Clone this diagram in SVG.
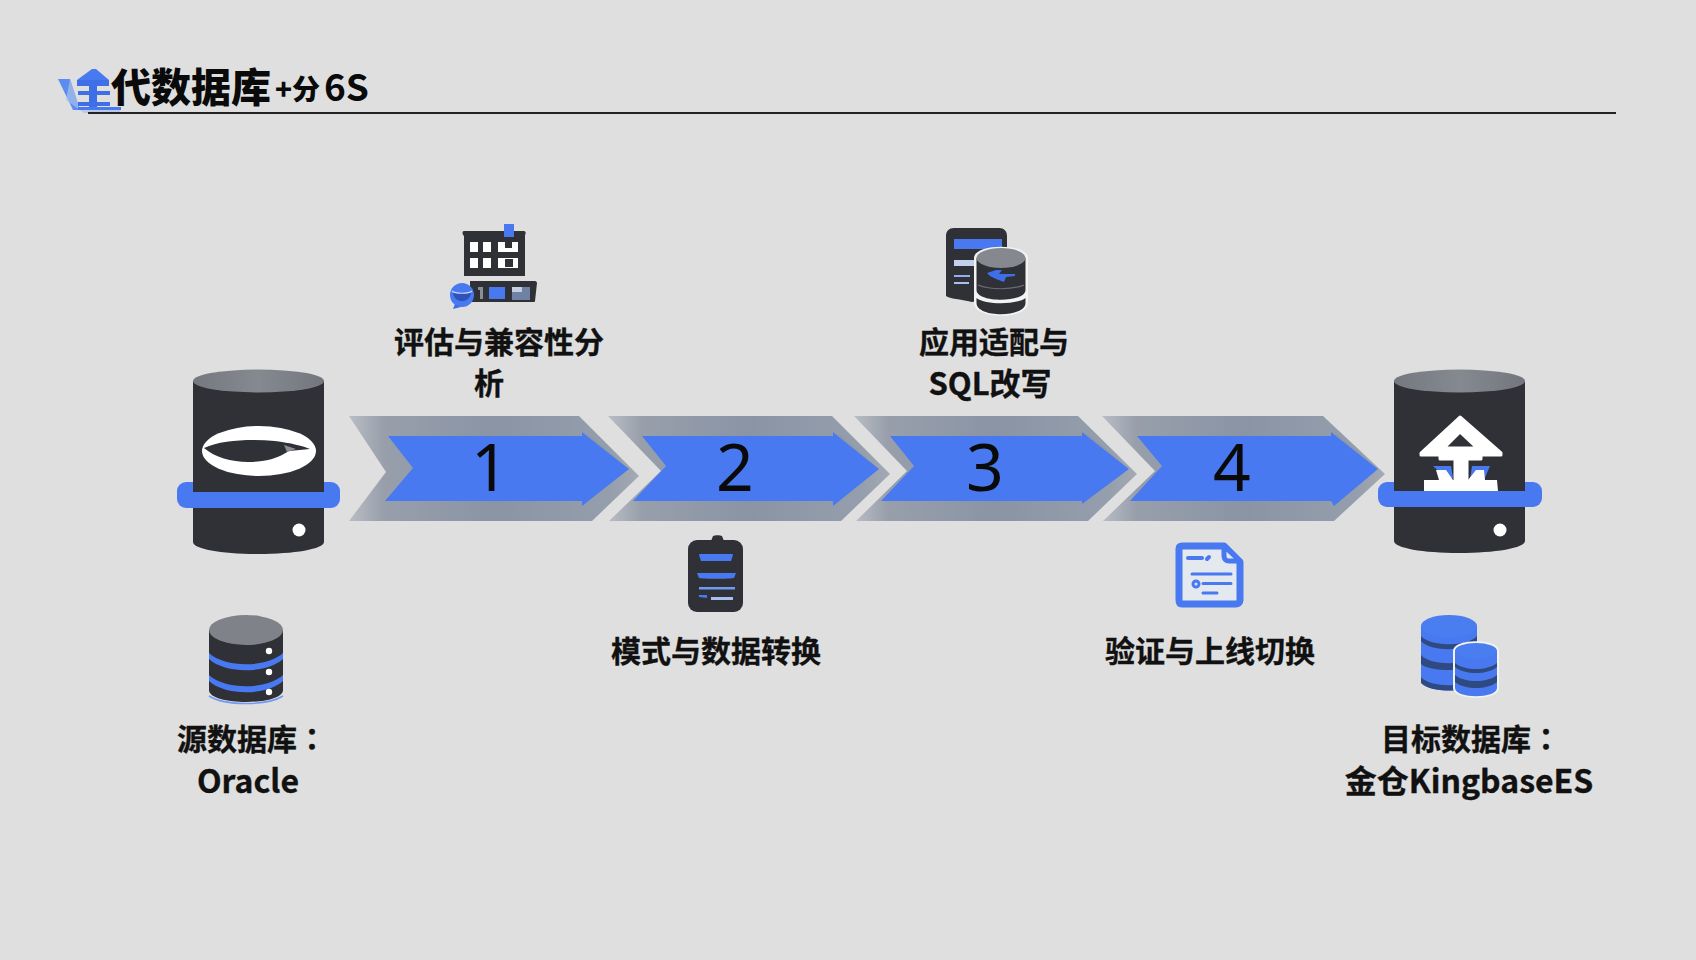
<svg xmlns="http://www.w3.org/2000/svg" width="1696" height="960" viewBox="0 0 1696 960">
<style>
.t{font-family:"Noto Sans CJK SC","Noto Sans",sans-serif;font-weight:700;font-size:30px;fill:#111;stroke:#111;stroke-width:.35px;text-anchor:middle}
.l{font-size:32px}
.c{font-family:"Noto Sans CJK TC",sans-serif}
.n{font-family:"Noto Sans",sans-serif;font-size:66px;fill:#0a0a0a;text-anchor:middle}
.g{fill:url(#gray)}
.b{fill:#4879f0}
.d{fill:#2f3136}
.w{fill:#fff}
.s{fill:#8d97a8}
</style>
<defs>
<linearGradient id="gray" x1="0" x2="1" y1="0" y2="0">
<stop offset="0" stop-color="#b9bdc4"/><stop offset=".12" stop-color="#989fab"/><stop offset=".5" stop-color="#8a94a5"/><stop offset=".9" stop-color="#959eac"/><stop offset="1" stop-color="#a4aab4"/>
</linearGradient>
<linearGradient id="top" x1="0" x2="1" y1="0" y2="0">
<stop offset="0" stop-color="#75797f"/><stop offset=".5" stop-color="#858a90"/><stop offset="1" stop-color="#73777d"/>
</linearGradient>
</defs>
<rect width="1696" height="960" fill="#dfdfdf"/>

<g id="title">
<path d="M58 79H70L80 110H73Z" fill="#5b8cf0"/>
<path d="M70 79L80 110H120V113H84L66 100Z" fill="#a9bfe8" opacity=".7"/>
<path d="M92 69L77 80H109L96 69Z" fill="#4879f0"/>
<path d="M77 80H109V86H77ZM78 91H110V95H78ZM78 102H110V106H78ZM89 84H97V108H89Z" fill="#3f6fe6"/>
<path d="M78 107H121V110H78Z" fill="#4879f0"/>
<rect x="88" y="112" width="1528" height="2" fill="#222"/>
<text x="111" y="102" font-family="Noto Sans CJK SC,sans-serif" font-weight="900" font-size="40" fill="#0a0a0a">代数据库<tspan x="275" y="100" font-size="28">+分</tspan><tspan x="324" y="101" font-size="37" font-weight="700">6S</tspan></text>
</g>

<g id="connectors">
<path class="g" d="M349 416H579L639 476L592 521H349L386 472Z"/>
<path class="b" d="M388 436H582V432L629 469L582 506V501H385L413 468Z"/>
<path class="s" d="M582 432L629 469L590 436Z"/>
<path class="g" d="M608 416H832L890 474L841 521H609L661 471Z"/>
<path class="b" d="M642 436H833V432L879 469L833 506V501H633L666 466Z"/>
<path class="s" d="M833 432L879 469L841 436Z"/>
<path class="g" d="M854 416H1078L1137 474L1088 521H856L907 471Z"/>
<path class="b" d="M890 436H1082V432L1129 469L1082 504V501H881L914 466Z"/>
<path class="s" d="M1082 432L1129 469L1090 436Z"/>
<path class="g" d="M1102 416H1323L1385 474L1334 521H1103L1155 471Z"/>
<path class="b" d="M1137 436H1331V432L1378 469L1334 506L1331 501H1130L1162 466Z"/>
<path class="s" d="M1331 432L1378 469L1339 436Z"/>
<text class="n" x="490" y="491">1</text>
<text class="n" x="735" y="491">2</text>
<text class="n" x="985" y="491">3</text>
<text class="n" x="1232" y="491">4</text>
</g>

<g id="source-cylinder">
<rect class="b" x="177" y="482" width="163" height="26" rx="9"/>
<path class="d" d="M193 381V492H324V381Z"/>
<path class="d" d="M193 508V542C193 549 222 554 258 554S324 549 324 542V508Z"/>
<ellipse cx="258.500" cy="381" rx="65.500" ry="11.500" fill="url(#top)"/>
<circle class="w" cx="299" cy="530" r="6.500"/>
<ellipse class="w" cx="259" cy="451" rx="57" ry="25"/>
<path class="d" d="M204 448C222 440 250 439 275 441C290 443 304 446 310 449L289 451C282 455 276 459 262 461C240 464 218 460 204 448Z"/>
<path d="M284 445L296 449L287 452Z" fill="#8a8f96"/>
</g>

<g id="target-cylinder">
<rect class="b" x="1378" y="482" width="164" height="25" rx="9"/>
<path class="d" d="M1394 381V491H1525V381Z"/>
<path class="d" d="M1394 507V541C1394 548 1423 553 1459 553S1525 548 1525 541V507Z"/>
<ellipse cx="1459.500" cy="381" rx="65.500" ry="11.500" fill="url(#top)"/>
<circle class="w" cx="1500" cy="530" r="6.500"/>
<path class="w" fill-rule="evenodd" stroke="#fff" stroke-width="3" stroke-linejoin="round" d="M1460 417L1501 453V455H1481V459H1467V480H1455V459H1440V455H1421V453ZM1460 432L1444 448H1477Z"/>
<path class="b" d="M1433 466H1451L1453 478L1448 480ZM1472 466H1490L1484 480H1470Z"/>
<path class="w" d="M1436 470L1446 470L1453 480H1468L1476 470L1484 470L1485 480H1497L1498 491H1424L1424 480H1439Z"/>
</g>

<g id="step1-icon">
<path class="d" d="M464 231H524C526 231 526 234 525 235V276H464V236C462 234 462 231 464 231Z"/>
<path class="w" d="M470 242h8v10h-8zM483 242h8v10h-8zM498 242h20v10h-20zM470 258h8v10h-8zM483 258h8v10h-8zM498 258h20v10h-20z"/>
<path class="d" d="M505 241h7v7h-7zM505 259h8v8h-8z"/>
<rect class="b" x="504" y="224" width="10" height="13"/>
<path class="d" d="M470 281H535C536 281 537 282 537 283L535 301C535 302 534 302 533 302H470Z"/>
<path class="b" d="M489 287H505V299H489Z"/>
<path d="M512 287H530V300H512Z" fill="#6f82a3"/>
<path d="M512 287H522V292H512Z" fill="#c5cede"/>
<path d="M478 287H483V299H480V290H478Z" fill="#8a8f96"/>
<circle cx="462" cy="295" r="12" fill="#4879f0"/>
<path d="M453 293C455 304 469 304 471 293Z" fill="#2f52b8"/>
<path d="M452 291C455 294 469 294 472 291" fill="none" stroke="#cdd9f7" stroke-width="1.200"/>
<path d="M455 304L453 309L461 307Z" fill="#3f6fe6"/>
</g>

<g id="step3-icon">
<path class="d" d="M954 228H999C1004 228 1007 231 1007 236V296L972 302C960 299 950 299 946 296V236C946 231 949 228 954 228Z"/>
<rect class="b" x="954" y="239" width="48" height="10"/>
<rect x="954" y="260" width="22" height="6" fill="#c2d0ee"/>
<rect x="954" y="275" width="16" height="2" fill="#8fb0f0"/>
<rect x="954" y="282" width="15" height="2" fill="#a7c0f0"/>
<path d="M974 258C974 243 1028 243 1028 258V303C1028 320 974 320 974 303Z" fill="#f3f3f3"/>
<path class="d" d="M976.500 258V290C976.500 303 1025.500 303 1025.500 290V258Z"/>
<path class="d" d="M976.500 298C985 305 1017 305 1025.500 298V303C1025.500 318 976.500 318 976.500 303Z"/>
<ellipse cx="1001" cy="258" rx="24.500" ry="10" fill="#85898f"/>
<path d="M987 273L996 270H1002L999 274H1008L1015 274V276L1006 277L1004 282L996 279L990 276Z" fill="#3f6fe6"/>
<path d="M978 285C990 290 1012 290 1024 285" fill="none" stroke="#6a6e74" stroke-width="1.200"/>
</g>

<g id="step2-icon">
<rect class="d" x="688" y="540" width="55" height="72" rx="9"/>
<path class="d" d="M711 541L713 536C715 535 720 535 722 536L724 541Z"/>
<path class="b" d="M699 555C699 554 700 554 700 554H732C733 554 733 555 733 555L731 561H701Z"/>
<path class="b" d="M697 573H736L734 578C730 579 703 579 699 578Z"/>
<rect x="699" y="587" width="36" height="2.500" fill="#6f9bf5"/>
<path class="b" d="M699 595H707V598L699 597Z"/>
<rect x="711" y="597" width="22" height="3" fill="#a7c0f0"/>
</g>

<g id="step4-icon">
<path d="M1182 546H1224L1240 562V600C1240 603 1238 604 1236 604H1182C1180 604 1179 603 1179 600V549C1179 547 1180 546 1182 546Z" fill="#e4e8ef" stroke="#4879f0" stroke-width="7" stroke-linejoin="round"/>
<path d="M1224 546V556C1224 559 1226 561 1229 561H1240Z" fill="#e4e8ef" stroke="#4879f0" stroke-width="5" stroke-linejoin="round"/>
<path d="M1188 558H1202M1207 559L1209 557" fill="none" stroke="#4879f0" stroke-width="4" stroke-linecap="round"/>
<path d="M1192 574H1231M1203 583.500H1231M1203 593H1217" fill="none" stroke="#4879f0" stroke-width="3" stroke-linecap="round"/>
<circle cx="1196" cy="584" r="3" fill="#dbe4f7" stroke="#4879f0" stroke-width="3"/>
</g>

<g id="source-db-icon">
<path class="d" d="M209 630V690C209 706 283 706 283 690V630Z"/>
<path d="M209 653C225 668 267 668 283 653V659C267 674 225 674 209 659ZM209 675C225 690 267 690 283 675V681C267 696 225 696 209 681Z" fill="#4879f0"/>
<path d="M209 696C225 706 267 706 283 696" fill="none" stroke="#6f9bf5" stroke-width="1.500"/>
<ellipse cx="246" cy="630" rx="37" ry="15" fill="#7f8389"/>
<circle class="w" cx="269" cy="651" r="3.200"/>
<circle class="w" cx="269" cy="672" r="3.200"/>
<circle class="w" cx="269" cy="692" r="3.200"/>
</g>

<g id="target-db-icon">
<path class="b" d="M1421 626V680C1421 694 1477 694 1477 680V626Z"/>
<path d="M1421 636C1430 647 1468 647 1477 636V641C1468 652 1430 652 1421 641ZM1421 655C1430 666 1468 666 1477 655V664C1468 672 1430 672 1421 664ZM1421 677C1430 688 1468 688 1477 677V683C1468 693 1430 693 1421 683Z" fill="#2f4a80"/>
<ellipse cx="1449" cy="626" rx="28" ry="11" fill="#4a7df0"/>
<path d="M1453 651C1453 638 1499 638 1499 651V688C1499 701 1453 701 1453 688Z" fill="#f3f3f3"/>
<path class="b" d="M1455 651V688C1455 699 1497 699 1497 688V651Z"/>
<path d="M1455 663C1465 671 1487 671 1497 663V667C1487 675 1465 675 1455 667ZM1455 675C1465 683 1487 683 1497 675V682C1487 690 1465 690 1455 682Z" fill="#2f4a80"/>
<ellipse cx="1476" cy="651" rx="21" ry="8" fill="#4a7df0"/>
</g>

<g id="labels">
<text class="t"><tspan x="499" y="353">评估与兼容性分</tspan><tspan x="489" y="394">析</tspan></text>
<text class="t"><tspan x="994" y="353">应用适配与</tspan><tspan x="990" y="395" style="font-size:31px">SQL改写</tspan></text>
<text class="t" x="716" y="662">模式与数据转换</text>
<text class="t" x="1210" y="662">验证与上线切换</text>
<text class="t"><tspan x="252" y="750">源数据库<tspan class="c">：</tspan></tspan><tspan class="l" x="248" y="793">Oracle</tspan></text>
<text class="t"><tspan x="1471" y="750">目标数据库<tspan class="c">：</tspan></tspan><tspan class="l" x="1469" y="793">金仓KingbaseES</tspan></text>
</g>
</svg>
